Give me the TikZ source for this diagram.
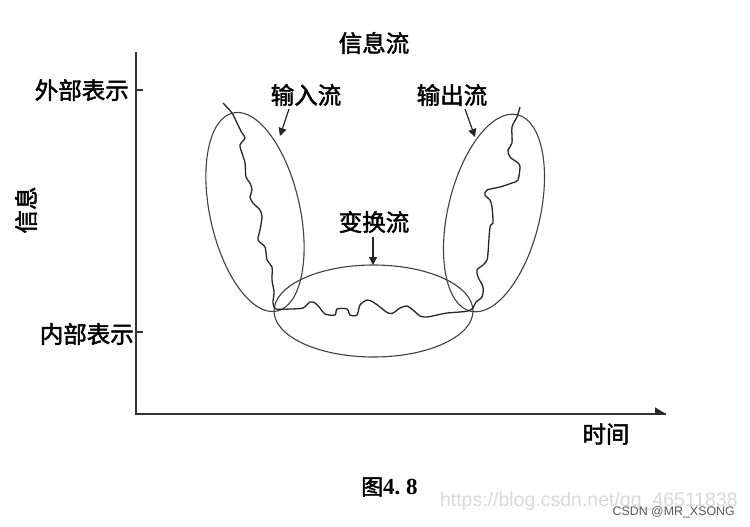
\documentclass[tikz,border=0pt]{standalone}
\usepackage{fontspec}
\setmainfont{Liberation Sans}
\newfontfamily\cjk[AutoFakeBold=2]{Noto Sans CJK SC}
\newfontfamily\capserif{Liberation Serif}
\usetikzlibrary{arrows.meta}
\begin{document}
\begin{tikzpicture}[x=1pt,y=-1pt,
  lab/.style={font=\cjk\bfseries\fontsize{23.5}{26}\selectfont, inner sep=0pt},
  axisline/.style={line width=1.6pt, draw=black!80},
  flowline/.style={line width=1.3pt, draw=black!85, line join=round},
  ring/.style={line width=1.1pt, draw=black!75},
  pointer/.style={line width=1.2pt, draw=black!85, -{Triangle[length=8pt,width=8pt]}}]
\useasboundingbox (0,0) rectangle (750,527);
\fill[white] (0,0) rectangle (750,527);

% axes
\coordinate (O) at (136,414);
\coordinate (ytop) at (136,52);
\coordinate (xend) at (666,414);
\coordinate (tickA) at (143,90);
\coordinate (tickB) at (143,332);
\draw[axisline] (ytop) -- (O) -- (xend);
\fill[black!85] (xend) -- ++(-11,0.8) -- ++(0,-7.5) -- cycle;
\draw[axisline] (tickA) -- (tickA -| O);
\draw[axisline] (tickB) -- (tickB -| O);

% labels
\node[lab] (title) at (374,43) {信息流};
\node[lab, anchor=east] (ext) at (129,90) {外部表示};
\node[lab, anchor=east] (int) at (134,334) {内部表示};
\node[lab, rotate=90] (ylab) at (26,210) {信息};
\node[lab] (xlab) at (606,434) {时间};
\node[lab] (inlab) at (306,95) {输入流};
\node[lab] (outlab) at (452,95) {输出流};
\node[lab] (translab) at (374,222) {变换流};

% ellipses
\draw[ring, shift={(255,212)}, rotate=12.5] (0,0) ellipse [x radius=45, y radius=101.5];
\draw[ring, shift={(494,213)}, rotate=-13.4] (0,0) ellipse [x radius=46, y radius=101];
\draw[ring] (373.5,311) ellipse [x radius=99.5, y radius=46];

% pointers
\coordinate (inTail) at (289,109);
\coordinate (inTip) at (280,136);
\coordinate (outTail) at (465,109);
\coordinate (outTip) at (475,137);
\coordinate (trTail) at (373,237);
\coordinate (trTip) at (373,265);
\draw[pointer] (inTail) -- (inTip);
\draw[pointer] (outTail) -- (outTip);
\draw[pointer] (trTail) -- (trTip);

% flow curve
\draw[flowline] plot[smooth, tension=0.5] coordinates {
 (223,103) (232,113) (237,123) (242,133) (245,138) (240,145) (242,153)
 (245,163) (246,177) (250,183) (252,190) (250,197) (253,203) (260,210)
 (262,217) (260,230) (258,240) (265,247) (267,260) (272,267) (272,280)
 (274,292) (273,303) (276,309) (290,309) (303,308) (310,302) (315,303)
 (320,308) (325,314) (335,315) (337,309) (347,309) (350,315) (357,315)
 (360,305) (367,300) (373,302) (380,307) (388,313) (393,313) (400,308)
 (407,306) (413,310) (420,316) (427,317) (437,315) (447,313) (460,312)
 (468,311) (473,308) (476,302) (482,297) (483,287) (478,277) (477,270)
 (483,265) (487,260) (488,253) (490,227) (493,223) (492,207) (490,200)
 (485,195) (487,190) (500,187) (512,183) (518,180) (520,167) (518,163)
 (510,157) (508,150) (512,143) (512,127) (517,117) (520,107)};

% caption and watermarks
\node[inner sep=0pt, anchor=west] (cap) at (361,487)
  {{\cjk\bfseries\fontsize{22}{24}\selectfont 图}{\capserif\bfseries\fontsize{23}{24}\selectfont 4.~8}};
\node[inner sep=0pt, anchor=east, text=black!15, font=\fontsize{19.5}{22}\selectfont] (wm1) at (738,501) {https://blog.csdn.net/qq\_46511838};
\node[inner sep=0pt, anchor=east, text=black!65, font=\fontsize{12.4}{14}\selectfont] (wm2) at (735,512) {CSDN @MR\_XSONG};
\end{tikzpicture}
\end{document}
